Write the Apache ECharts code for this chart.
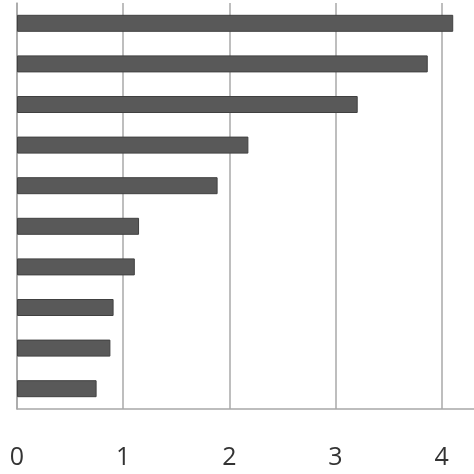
<!DOCTYPE html>
<html>
<head>
<meta charset="utf-8">
<script src="https://cdn.jsdelivr.net/npm/echarts@6/dist/echarts.min.js"></script>
<style>
  html, body { margin: 0; padding: 0; background: #fff; }
  #chart { width: 474px; height: 474px; }
</style>
</head>
<body>
<div id="chart"></div>
<script>
// categories top to bottom (no labels shown in the original)
const categories = ['c1', 'c2', 'c3', 'c4', 'c5', 'c6', 'c7', 'c8', 'c9', 'c10']
const values = [4.11, 3.87, 3.21, 2.18, 1.89, 1.15, 1.11, 0.91, 0.88, 0.75]
const tickLabels = ['0', '1', '2', '3', '4']

const chart = echarts.init(document.getElementById('chart'))
const option = {
  animation: false,
  grid: {
    left: 17,
    width: 467,
    top: 3,
    bottom: 65,
    containLabel: false,
    outerBoundsMode: 'none'
  },
  xAxis: {
    type: 'value',
    min: 0,
    max: 4.4,
    interval: 1,
    axisLine: { show: true, onZero: false, lineStyle: { color: '#a8a8a8', width: 1.5 } },
    axisTick: { show: false },
    splitLine: { show: true, lineStyle: { color: '#a8a8a8', width: 1.5 } },
    axisLabel: {
      margin: 36,
      fontSize: 25,
      fontFamily: 'Open Sans',
      color: '#333',
      // only the whole-number ticks carry a label
      formatter: function(v) {
        const i = tickLabels.indexOf(String(v))
        return i >= 0 ? tickLabels[i] : ''
      }
    }
  },
  yAxis: {
    type: 'category',
    data: categories,
    inverse: true,
    axisLine: { show: true, onZero: false, lineStyle: { color: '#a8a8a8', width: 1.5 } },
    axisTick: { show: false },
    axisLabel: { show: false },
    splitLine: { show: false }
  },
  series: [{
    type: 'bar',
    data: values,
    barWidth: 17,
    itemStyle: {
      color: '#595959',
      borderColor: '#404040',
      borderWidth: 1
    }
  }]
}
chart.setOption(option)
</script>
</body>
</html>
